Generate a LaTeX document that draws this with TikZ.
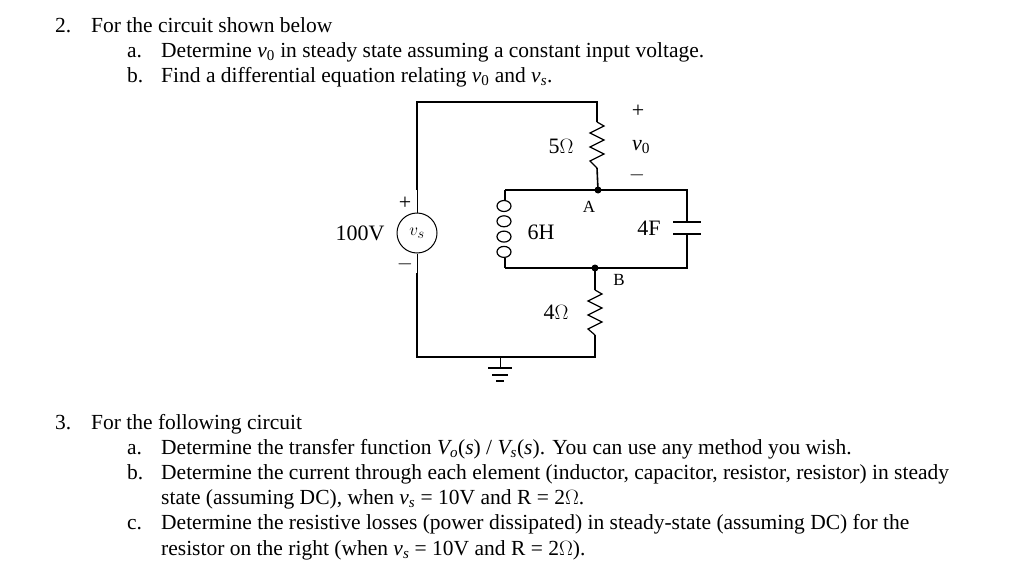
\documentclass[tikz,border=0pt]{standalone}
\usepackage{fontspec}
\setmainfont{Liberation Serif}
\begin{document}
\begin{tikzpicture}[x=1pt,y=-1pt,
  txt/.style={anchor=base west,inner sep=0pt,font=\fontsize{21.5}{24}\selectfont},
  lbl/.style={inner sep=0pt,font=\fontsize{22}{24}\selectfont},
  sml/.style={inner sep=0pt,font=\fontsize{17}{19}\selectfont},
  wire/.style={line width=1.6pt},
  dot/.style={circle,fill,inner sep=0pt,minimum size=7pt}]
\useasboundingbox (0,0) rectangle (1024,586);
% text
\node[txt] (t2) at (55,33) {2.};
\node[txt] (t2t) at (91,33) {For the circuit shown below};
\node[txt] (t2a) at (127,57) {a.};
\node[txt] (t2at) at (161,57) {Determine \textit{v}\textsubscript{0} in steady state assuming a constant input voltage.};
\node[txt] (t2b) at (127,82) {b.};
\node[txt] (t2bt) at (161,82) {Find a differential equation relating \textit{v}\textsubscript{0} and \textit{v\textsubscript{s}}.};
\node[txt] (t3) at (55,429) {3.};
\node[txt] (t3t) at (91,429) {For the following circuit};
\node[txt] (t3a) at (127,454) {a.};
\node[txt] (t3at) at (161,454) {Determine the transfer function \textit{V\textsubscript{o}}(\textit{s}) / \textit{V\textsubscript{s}}(\textit{s}). You can use any method you wish.};
\node[txt] (t3b) at (127,479) {b.};
\node[txt] (t3bt) at (161,479) {Determine the current through each element (inductor, capacitor, resistor, resistor) in steady};
\node[txt] (t3bt2) at (161,504) {state (assuming DC), when \textit{v\textsubscript{s}} = 10V and R = 2$\Omega$.};
\node[txt] (t3c) at (127,529) {c.};
\node[txt] (t3ct) at (161,529) {Determine the resistive losses (power dissipated) in steady-state (assuming DC) for the};
\node[txt] (t3ct2) at (161,555) {resistor on the right (when \textit{v\textsubscript{s}} = 10V and R = 2$\Omega$).};
% coordinates
\coordinate (TL) at (417,102);
\coordinate (TR) at (597,102);
\coordinate (R5a) at (597,122);
\coordinate (R5b) at (597,168);
\coordinate (A) at (598,190);
\coordinate (AL) at (505,190);
\coordinate (AR) at (687,190);
\coordinate (B) at (595,268);
\coordinate (BL) at (505,268);
\coordinate (BR) at (687,268);
\coordinate (C1) at (687,222);
\coordinate (C2) at (687,234);
\coordinate (R4a) at (595,290);
\coordinate (R4b) at (595,335);
\coordinate (BRt) at (595,357);
\coordinate (BLt) at (417,357);
\coordinate (G) at (500,357);
\coordinate (Gb) at (500,368);
\coordinate (L1) at (505,200);
\coordinate (L2) at (505,258);
\node[circle,draw,line width=1pt,minimum size=40pt,inner sep=0pt,font=\fontsize{19}{21}\selectfont] (vs) at (417,233) {$v_s$};
\coordinate (VT) at (417,190);
\coordinate (VB) at (417,273);
% wires
\draw[wire] (VT) -- (TL) -- (TR) -- (R5a);
\draw[line width=1.2pt] (R5a) -- ++(7,4) -- ++(-14,7) -- ++(14,7) -- ++(-14,7) -- ++(14,7) -- ++(-14,7) -- ++(7,7) -- (R5b);
\draw[wire] (R5b) -- (A);
\draw[wire] (AL) -- (AR) -- (C1);
\draw[wire] (BL) -- (BR) -- (C2);
\draw[line width=1.4pt] (673,222) -- (701,222) (673,234) -- (701,234);
\draw[wire] (AL) -- (L1);
\draw[wire] (L2) -- (BL);
\foreach \k in {0,1,2,3} \draw[line width=1.2pt] (504,{206+15.3*\k}) ellipse [x radius=7,y radius=5.5];
\draw[wire] (B) -- (R4a);
\draw[line width=1.2pt] (R4a) -- ++(7,4) -- ++(-14,7) -- ++(14,7) -- ++(-14,7) -- ++(14,7) -- ++(-14,7) -- ++(7,6) -- (R4b);
\draw[wire] (R4b) -- (BRt) -- (BLt) -- (VB);
\draw[line width=1pt] (VT) -- (vs.north) (vs.south) -- (VB);
\draw[line width=1pt] (G) -- (Gb);
\draw[line width=1.2pt] (488,368) -- (512,368) (492,375) -- (508,375) (496,381) -- (504,381);
\node[dot] (nA) at (A) {};
\node[dot] (nB) at (B) {};
% labels
\node[lbl] (p1) at (405,203) {+};
\node[lbl] (m1) at (405,264) {$-$};
\node[lbl] (l100) at (360,233) {100V};
\node[lbl] (l5) at (561,146) {5$\Omega$};
\node[lbl] (lv0) at (641,147) {\textit{v}\textsubscript{0}};
\node[lbl] (pp) at (638,111) {+};
\node[lbl] (mm) at (637,175) {$-$};
\node[sml] (lA) at (589,207) {A};
\node[sml] (lB) at (619,280) {B};
\node[lbl] (l6) at (541,232) {6H};
\node[lbl] (l4F) at (649,228) {4F};
\node[lbl] (l4) at (556,312) {4$\Omega$};
\end{tikzpicture}
\end{document}
